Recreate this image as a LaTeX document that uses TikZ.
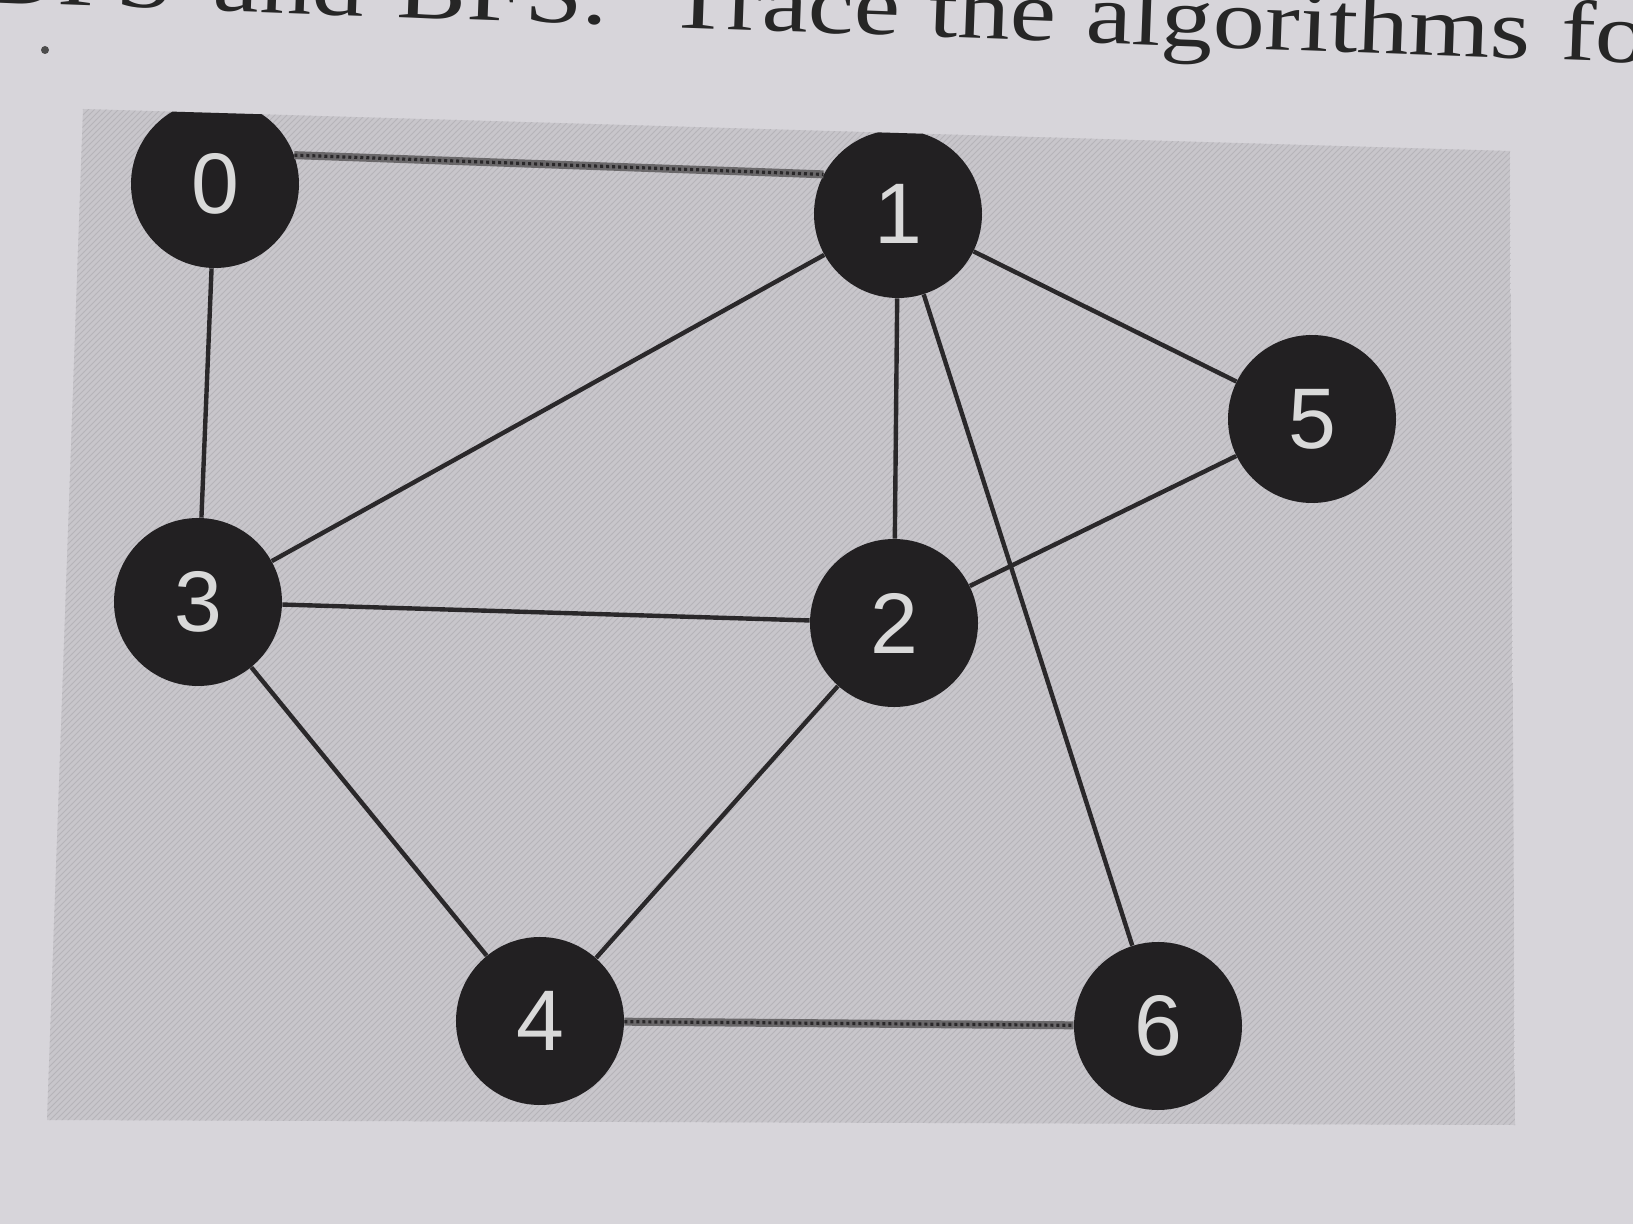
\documentclass[tikz,border=0pt]{standalone}
\usepackage{fontspec}
\usepackage{graphicx}
\setmainfont{Liberation Serif}
\newfontfamily\digitfont{Liberation Sans}
\usetikzlibrary{patterns}
\definecolor{paper}{HTML}{D7D5DA}
\definecolor{panel}{HTML}{C8C6CB}
\definecolor{hatch}{HTML}{B6B4B9}
\definecolor{vfill}{HTML}{222022}
\definecolor{edgec}{HTML}{2A282A}
\begin{document}
\begin{tikzpicture}[x=0.5pt,y=-0.5pt,
  vertex/.style={circle, fill=vfill, minimum size=84pt, inner sep=0pt,
    text=white!85!black, font=\digitfont\fontsize{43}{43}\selectfont},
  edge/.style={draw=edgec, line width=2.2pt},
  hedge/.style={draw=edgec!70!white, line width=4pt},
  hedgetop/.style={draw=edgec, line width=1.6pt, dash pattern=on 1.5pt off 1.5pt}]
\fill[paper] (0,0) rectangle (1633,1224);
\useasboundingbox (0,0) rectangle (1633,1224);
\node[anchor=base west, inner sep=0pt, text=black!85, rotate=-2.1,
  font=\fontsize{52}{60}\selectfont] (title) at (-18,2)
  {\scalebox{1}[0.82]{DFS{\hskip20pt}and{\hskip17pt}BFS.{\hskip29.5pt}Trace{\hskip14.5pt}the{\hskip15pt}algorithms{\hskip15pt}for}};
\node[circle, fill=black!70, minimum size=4pt, inner sep=0pt] (speck) at (45,50) {};
\begin{scope}
  \clip (83,109) -- (1510,151) -- (1515,1125) -- (47,1120) -- cycle;
  \fill[panel] (83,109) -- (1510,151) -- (1515,1125) -- (47,1120) -- cycle;
  \fill[pattern=north east lines, pattern color=hatch] (83,109) -- (1510,151) -- (1515,1125) -- (47,1120) -- cycle;
  \node[vertex] (n0) at (215,184) {0};
  \node[vertex] (n1) at (898,214) {1};
  \node[vertex] (n5) at (1312,419) {5};
  \node[vertex] (n3) at (198,602) {3};
  \node[vertex] (n2) at (894,623) {2};
  \node[vertex] (n4) at (540,1021) {4};
  \node[vertex] (n6) at (1158,1026) {6};
  \draw[hedge] (n0.20) -- (n1.152);
  \draw[hedgetop] (n0.20) -- (n1.152);
  \draw[edge] (n0) -- (n3);
  \draw[edge] (n1) -- (n3);
  \draw[edge] (n1) -- (n2);
  \draw[edge] (n1) -- (n5);
  \draw[edge] (n1) -- (n6);
  \draw[edge] (n5) -- (n2);
  \draw[edge] (n3) -- (n2);
  \draw[edge] (n3) -- (n4);
  \draw[edge] (n2) -- (n4);
  \draw[hedge] (n4) -- (n6);
  \draw[hedgetop] (n4) -- (n6);
\end{scope}
\end{tikzpicture}
\end{document}
